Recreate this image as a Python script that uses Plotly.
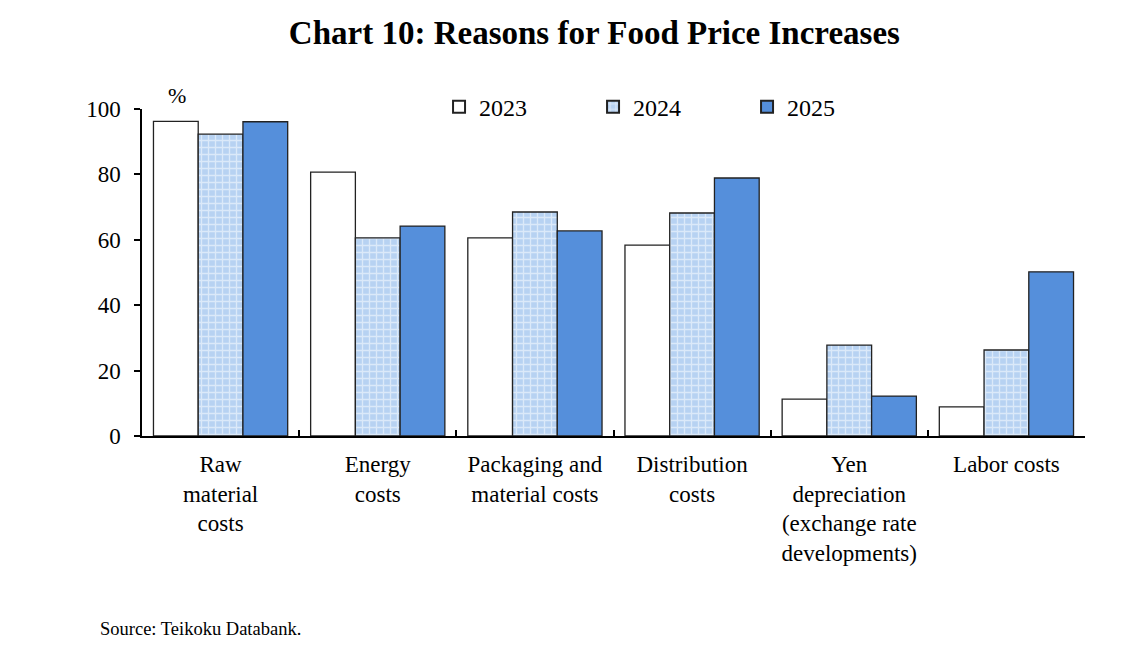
import plotly.graph_objects as go

categories = ["Raw<br>material<br>costs", "Energy<br>costs", "Packaging and<br>material costs",
              "Distribution<br>costs", "Yen<br>depreciation<br>(exchange rate<br>developments)", "Labor costs"]
v2023 = [96.2, 80.7, 60.6, 58.4, 11.3, 8.9]
v2024 = [92.3, 60.6, 68.5, 68.2, 27.8, 26.3]
v2025 = [96.1, 64.2, 62.7, 78.9, 12.2, 50.2]
years = ["2023", "2024", "2025"]

FONT = "Liberation Serif"
line = dict(color="#222222", width=1.3)

fig = go.Figure()
fig.add_bar(x=categories, y=v2023, name=years[0], marker=dict(color="white", line=line))
fig.add_bar(x=categories, y=v2024, name=years[1],
            marker=dict(color="#b7d2f2", line=line,
                        pattern=dict(shape="+", fgcolor="white", bgcolor="#b7d2f2", size=7, solidity=0.35)))
fig.add_bar(x=categories, y=v2025, name=years[2], marker=dict(color="#558fdb", line=line))

fig.update_layout(
    width=1132, height=652,
    paper_bgcolor="white", plot_bgcolor="white",
    margin=dict(l=134, r=55, t=101, b=224),
    barmode="group", bargap=0.146, bargroupgap=0,
    font=dict(family=FONT, size=23, color="black"),
    title=dict(text="<b>Chart 10: Reasons for Food Price Increases</b>", x=0.518, xanchor="center",
               y=0.962, yanchor="middle", font=dict(family=FONT, size=33, color="black")),
    legend=dict(orientation="h", x=0.315, xanchor="left", y=1.006, yanchor="middle",
                entrywidth=109, entrywidthmode="pixels", bgcolor="rgba(0,0,0,0)",
                font=dict(family=FONT, size=24), itemsizing="constant"),
    showlegend=True,
)
fig.update_xaxes(showline=True, linecolor="black", linewidth=2, tickson="boundaries",
                 ticks="inside", ticklen=6, tickwidth=1.5, tickcolor="black", showgrid=False,
                 tickfont=dict(family=FONT, size=23), ticklabelstandoff=6)
fig.update_yaxes(range=[0, 100], dtick=20, showline=True, linecolor="black", linewidth=1.5,
                 ticks="outside", ticklen=6, tickwidth=1.5, tickcolor="black", showgrid=False,
                 zeroline=False, tickfont=dict(family=FONT, size=23), ticklabelstandoff=9)

fig.add_annotation(text="%", xref="paper", yref="paper", x=(169 - 134) / 943, y=1.04,
                   showarrow=False, font=dict(family=FONT, size=22), xanchor="center", yanchor="middle")
fig.add_annotation(text="Source: Teikoku Databank.", xref="paper", yref="paper",
                   x=-0.0467, y=-0.59, xanchor="left", yanchor="middle",
                   showarrow=False, font=dict(family=FONT, size=18.5))

fig.write_html("out.html")
